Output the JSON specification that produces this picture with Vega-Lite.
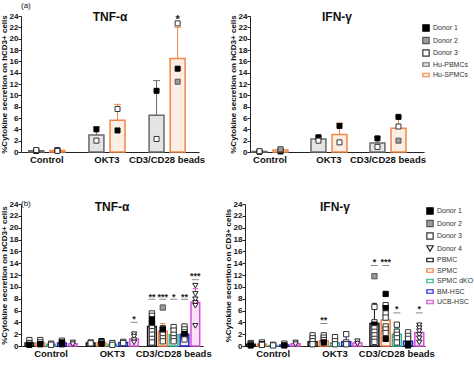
{
 "$schema": "https://vega.github.io/schema/vega-lite/v6.json",
 "padding": {"left": 0, "top": 2, "right": 0, "bottom": 0},
 "spacing": 36,
 "datasets": {
  "aT_bars": [
   {"cat": "Control", "cell": "Hu-PBMCs", "m": 0.2, "e": 0.3},
   {"cat": "Control", "cell": "Hu-SPMCs", "m": 0.25, "e": 0.3},
   {"cat": "OKT3", "cell": "Hu-PBMCs", "m": 3.0, "e": 4.4},
   {"cat": "OKT3", "cell": "Hu-SPMCs", "m": 5.6, "e": 8.4},
   {"cat": "CD3/CD28 beads", "cell": "Hu-PBMCs", "m": 6.5, "e": 12.6},
   {"cat": "CD3/CD28 beads", "cell": "Hu-SPMCs", "m": 16.5, "e": 22.0}
  ],
  "aT_pts": [
   {"cat": "Control", "cell": "Hu-PBMCs", "key": "Donor 1", "v": 0.2},
   {"cat": "Control", "cell": "Hu-PBMCs", "key": "Donor 3", "v": 0.35},
   {"cat": "Control", "cell": "Hu-SPMCs", "key": "Donor 2", "v": 0.25},
   {"cat": "Control", "cell": "Hu-SPMCs", "key": "Donor 1", "v": 0.3},
   {"cat": "Control", "cell": "Hu-SPMCs", "key": "Donor 3", "v": 0.2},
   {"cat": "OKT3", "cell": "Hu-PBMCs", "key": "Donor 1", "v": 4.0},
   {"cat": "OKT3", "cell": "Hu-PBMCs", "key": "Donor 3", "v": 2.0},
   {"cat": "OKT3", "cell": "Hu-SPMCs", "key": "Donor 3", "v": 7.6},
   {"cat": "OKT3", "cell": "Hu-SPMCs", "key": "Donor 1", "v": 3.8},
   {"cat": "CD3/CD28 beads", "cell": "Hu-PBMCs", "key": "Donor 1", "v": 10.8},
   {"cat": "CD3/CD28 beads", "cell": "Hu-PBMCs", "key": "Donor 3", "v": 2.3},
   {"cat": "CD3/CD28 beads", "cell": "Hu-SPMCs", "key": "Donor 3", "v": 22.7},
   {"cat": "CD3/CD28 beads", "cell": "Hu-SPMCs", "key": "Donor 1", "v": 14.7},
   {"cat": "CD3/CD28 beads", "cell": "Hu-SPMCs", "key": "Donor 2", "v": 12.4}
  ],
  "aT_sig": [
   {"cat": "CD3/CD28 beads", "cell": "Hu-SPMCs", "s": "*", "y": 23.6}
  ],
  "aI_bars": [
   {"cat": "Control", "cell": "Hu-PBMCs", "m": 0.1, "e": 0.15},
   {"cat": "Control", "cell": "Hu-SPMCs", "m": 0.35, "e": 0.5},
   {"cat": "OKT3", "cell": "Hu-PBMCs", "m": 2.3, "e": 2.8},
   {"cat": "OKT3", "cell": "Hu-SPMCs", "m": 3.1, "e": 5.1},
   {"cat": "CD3/CD28 beads", "cell": "Hu-PBMCs", "m": 1.6, "e": 2.6},
   {"cat": "CD3/CD28 beads", "cell": "Hu-SPMCs", "m": 4.2, "e": 6.3}
  ],
  "aI_pts": [
   {"cat": "Control", "cell": "Hu-PBMCs", "key": "Donor 1", "v": 0.05},
   {"cat": "Control", "cell": "Hu-PBMCs", "key": "Donor 3", "v": 0.15},
   {"cat": "Control", "cell": "Hu-SPMCs", "key": "Donor 1", "v": 0.1},
   {"cat": "Control", "cell": "Hu-SPMCs", "key": "Donor 3", "v": 0.4},
   {"cat": "Control", "cell": "Hu-SPMCs", "key": "Donor 2", "v": 0.5},
   {"cat": "OKT3", "cell": "Hu-PBMCs", "key": "Donor 1", "v": 2.6},
   {"cat": "OKT3", "cell": "Hu-PBMCs", "key": "Donor 3", "v": 2.0},
   {"cat": "OKT3", "cell": "Hu-SPMCs", "key": "Donor 1", "v": 4.6},
   {"cat": "OKT3", "cell": "Hu-SPMCs", "key": "Donor 3", "v": 1.7},
   {"cat": "CD3/CD28 beads", "cell": "Hu-PBMCs", "key": "Donor 1", "v": 2.4},
   {"cat": "CD3/CD28 beads", "cell": "Hu-PBMCs", "key": "Donor 3", "v": 0.9},
   {"cat": "CD3/CD28 beads", "cell": "Hu-SPMCs", "key": "Donor 1", "v": 6.2},
   {"cat": "CD3/CD28 beads", "cell": "Hu-SPMCs", "key": "Donor 3", "v": 4.5},
   {"cat": "CD3/CD28 beads", "cell": "Hu-SPMCs", "key": "Donor 2", "v": 2.0}
  ],
  "bT_bars": [
   {"cat": "Control", "cell": "PBMC", "m": 0.5, "e": 0.9},
   {"cat": "Control", "cell": "SPMC", "m": 0.5, "e": 0.9},
   {"cat": "Control", "cell": "SPMC dKO", "m": 0.3, "e": 0.45},
   {"cat": "Control", "cell": "BM-HSC", "m": 0.5, "e": 0.9},
   {"cat": "Control", "cell": "UCB-HSC", "m": 0.4, "e": 0.6},
   {"cat": "OKT3", "cell": "PBMC", "m": 0.5, "e": 0.6},
   {"cat": "OKT3", "cell": "SPMC", "m": 0.6, "e": 0.8},
   {"cat": "OKT3", "cell": "SPMC dKO", "m": 0.3, "e": 0.5},
   {"cat": "OKT3", "cell": "BM-HSC", "m": 0.6, "e": 0.7},
   {"cat": "OKT3", "cell": "UCB-HSC", "m": 1.2, "e": 2.0},
   {"cat": "CD3/CD28 beads", "cell": "PBMC", "m": 3.3, "e": 4.8},
   {"cat": "CD3/CD28 beads", "cell": "SPMC", "m": 2.5, "e": 3.8},
   {"cat": "CD3/CD28 beads", "cell": "SPMC dKO", "m": 1.9, "e": 2.7},
   {"cat": "CD3/CD28 beads", "cell": "BM-HSC", "m": 2.0, "e": 2.6},
   {"cat": "CD3/CD28 beads", "cell": "UCB-HSC", "m": 7.4, "e": 9.7}
  ],
  "bT_pts": [
   {"cat": "Control", "cell": "PBMC", "key": "Donor 3", "v": 1.0},
   {"cat": "Control", "cell": "PBMC", "key": "Donor 3", "v": 0.5},
   {"cat": "Control", "cell": "PBMC", "key": "Donor 1", "v": 0.2},
   {"cat": "Control", "cell": "SPMC", "key": "Donor 3", "v": 1.0},
   {"cat": "Control", "cell": "SPMC", "key": "Donor 3", "v": 0.6},
   {"cat": "Control", "cell": "SPMC", "key": "Donor 1", "v": 0.3},
   {"cat": "Control", "cell": "SPMC dKO", "key": "Donor 3", "v": 0.4},
   {"cat": "Control", "cell": "SPMC dKO", "key": "Donor 3", "v": 0.2},
   {"cat": "Control", "cell": "BM-HSC", "key": "Donor 3", "v": 0.9},
   {"cat": "Control", "cell": "BM-HSC", "key": "Donor 1", "v": 0.6},
   {"cat": "Control", "cell": "BM-HSC", "key": "Donor 1", "v": 0.3},
   {"cat": "Control", "cell": "UCB-HSC", "key": "Donor 4", "v": 0.6},
   {"cat": "Control", "cell": "UCB-HSC", "key": "Donor 4", "v": 0.3},
   {"cat": "OKT3", "cell": "PBMC", "key": "Donor 3", "v": 0.6},
   {"cat": "OKT3", "cell": "PBMC", "key": "Donor 3", "v": 0.45},
   {"cat": "OKT3", "cell": "SPMC", "key": "Donor 1", "v": 0.8},
   {"cat": "OKT3", "cell": "SPMC", "key": "Donor 3", "v": 0.6},
   {"cat": "OKT3", "cell": "SPMC", "key": "Donor 1", "v": 0.4},
   {"cat": "OKT3", "cell": "SPMC dKO", "key": "Donor 3", "v": 0.5},
   {"cat": "OKT3", "cell": "SPMC dKO", "key": "Donor 3", "v": 0.2},
   {"cat": "OKT3", "cell": "BM-HSC", "key": "Donor 3", "v": 0.7},
   {"cat": "OKT3", "cell": "BM-HSC", "key": "Donor 3", "v": 0.5},
   {"cat": "OKT3", "cell": "UCB-HSC", "key": "Donor 4", "v": 2.0},
   {"cat": "OKT3", "cell": "UCB-HSC", "key": "Donor 4", "v": 1.6},
   {"cat": "OKT3", "cell": "UCB-HSC", "key": "Donor 4", "v": 1.0},
   {"cat": "OKT3", "cell": "UCB-HSC", "key": "Donor 4", "v": 0.6},
   {"cat": "CD3/CD28 beads", "cell": "PBMC", "key": "Donor 3", "v": 5.5},
   {"cat": "CD3/CD28 beads", "cell": "PBMC", "key": "Donor 3", "v": 5.1},
   {"cat": "CD3/CD28 beads", "cell": "PBMC", "key": "Donor 1", "v": 4.5},
   {"cat": "CD3/CD28 beads", "cell": "PBMC", "key": "Donor 1", "v": 4.0},
   {"cat": "CD3/CD28 beads", "cell": "PBMC", "key": "Donor 1", "v": 3.5},
   {"cat": "CD3/CD28 beads", "cell": "PBMC", "key": "Donor 3", "v": 3.0},
   {"cat": "CD3/CD28 beads", "cell": "PBMC", "key": "Donor 3", "v": 2.5},
   {"cat": "CD3/CD28 beads", "cell": "PBMC", "key": "Donor 3", "v": 1.9},
   {"cat": "CD3/CD28 beads", "cell": "PBMC", "key": "Donor 3", "v": 1.2},
   {"cat": "CD3/CD28 beads", "cell": "PBMC", "key": "Donor 3", "v": 0.6},
   {"cat": "CD3/CD28 beads", "cell": "SPMC", "key": "Donor 2", "v": 6.5},
   {"cat": "CD3/CD28 beads", "cell": "SPMC", "key": "Donor 3", "v": 3.0},
   {"cat": "CD3/CD28 beads", "cell": "SPMC", "key": "Donor 1", "v": 2.8},
   {"cat": "CD3/CD28 beads", "cell": "SPMC", "key": "Donor 1", "v": 2.3},
   {"cat": "CD3/CD28 beads", "cell": "SPMC", "key": "Donor 3", "v": 1.9},
   {"cat": "CD3/CD28 beads", "cell": "SPMC", "key": "Donor 3", "v": 1.3},
   {"cat": "CD3/CD28 beads", "cell": "SPMC", "key": "Donor 3", "v": 0.8},
   {"cat": "CD3/CD28 beads", "cell": "SPMC dKO", "key": "Donor 3", "v": 3.2},
   {"cat": "CD3/CD28 beads", "cell": "SPMC dKO", "key": "Donor 3", "v": 2.6},
   {"cat": "CD3/CD28 beads", "cell": "SPMC dKO", "key": "Donor 3", "v": 1.9},
   {"cat": "CD3/CD28 beads", "cell": "SPMC dKO", "key": "Donor 3", "v": 1.3},
   {"cat": "CD3/CD28 beads", "cell": "SPMC dKO", "key": "Donor 3", "v": 0.8},
   {"cat": "CD3/CD28 beads", "cell": "BM-HSC", "key": "Donor 3", "v": 3.3},
   {"cat": "CD3/CD28 beads", "cell": "BM-HSC", "key": "Donor 3", "v": 2.8},
   {"cat": "CD3/CD28 beads", "cell": "BM-HSC", "key": "Donor 3", "v": 2.3},
   {"cat": "CD3/CD28 beads", "cell": "BM-HSC", "key": "Donor 1", "v": 2.0},
   {"cat": "CD3/CD28 beads", "cell": "BM-HSC", "key": "Donor 1", "v": 1.6},
   {"cat": "CD3/CD28 beads", "cell": "BM-HSC", "key": "Donor 3", "v": 1.1},
   {"cat": "CD3/CD28 beads", "cell": "UCB-HSC", "key": "Donor 4", "v": 10.2},
   {"cat": "CD3/CD28 beads", "cell": "UCB-HSC", "key": "Donor 4", "v": 8.8},
   {"cat": "CD3/CD28 beads", "cell": "UCB-HSC", "key": "Donor 4", "v": 7.9},
   {"cat": "CD3/CD28 beads", "cell": "UCB-HSC", "key": "Donor 4", "v": 7.3},
   {"cat": "CD3/CD28 beads", "cell": "UCB-HSC", "key": "Donor 4", "v": 6.8},
   {"cat": "CD3/CD28 beads", "cell": "UCB-HSC", "key": "Donor 4", "v": 3.4}
  ],
  "bT_sig": [
   {"cat": "OKT3", "cell": "UCB-HSC", "s": "*", "y": 4.9, "d": 4.0},
   {"cat": "CD3/CD28 beads", "cell": "PBMC", "s": "**", "y": 8.7, "d": 7.9},
   {"cat": "CD3/CD28 beads", "cell": "SPMC", "s": "***", "y": 8.7, "d": 7.9},
   {"cat": "CD3/CD28 beads", "cell": "SPMC dKO", "s": "*", "y": 8.7, "d": 7.9},
   {"cat": "CD3/CD28 beads", "cell": "BM-HSC", "s": "**", "y": 8.7, "d": 7.9},
   {"cat": "CD3/CD28 beads", "cell": "UCB-HSC", "s": "***", "y": 12.2, "d": 11.2}
  ],
  "bI_bars": [
   {"cat": "Control", "cell": "PBMC", "m": 0.3, "e": 0.5},
   {"cat": "Control", "cell": "SPMC", "m": 0.3, "e": 0.5},
   {"cat": "Control", "cell": "SPMC dKO", "m": 0.1, "e": 0.2},
   {"cat": "Control", "cell": "BM-HSC", "m": 0.15, "e": 0.3},
   {"cat": "Control", "cell": "UCB-HSC", "m": 0.4, "e": 0.6},
   {"cat": "OKT3", "cell": "PBMC", "m": 0.7, "e": 1.5},
   {"cat": "OKT3", "cell": "SPMC", "m": 0.9, "e": 1.6},
   {"cat": "OKT3", "cell": "SPMC dKO", "m": 0.5, "e": 1.2},
   {"cat": "OKT3", "cell": "BM-HSC", "m": 0.7, "e": 1.8},
   {"cat": "OKT3", "cell": "UCB-HSC", "m": 0.5, "e": 0.8},
   {"cat": "CD3/CD28 beads", "cell": "PBMC", "m": 3.8, "e": 7.2},
   {"cat": "CD3/CD28 beads", "cell": "SPMC", "m": 4.4, "e": 7.0},
   {"cat": "CD3/CD28 beads", "cell": "SPMC dKO", "m": 2.0, "e": 3.0},
   {"cat": "CD3/CD28 beads", "cell": "BM-HSC", "m": 0.8, "e": 1.7},
   {"cat": "CD3/CD28 beads", "cell": "UCB-HSC", "m": 2.3, "e": 3.4}
  ],
  "bI_pts": [
   {"cat": "Control", "cell": "PBMC", "key": "Donor 3", "v": 0.5},
   {"cat": "Control", "cell": "PBMC", "key": "Donor 3", "v": 0.3},
   {"cat": "Control", "cell": "PBMC", "key": "Donor 1", "v": 0.1},
   {"cat": "Control", "cell": "SPMC", "key": "Donor 3", "v": 0.6},
   {"cat": "Control", "cell": "SPMC", "key": "Donor 1", "v": 0.3},
   {"cat": "Control", "cell": "SPMC", "key": "Donor 3", "v": 0.2},
   {"cat": "Control", "cell": "SPMC dKO", "key": "Donor 3", "v": 0.2},
   {"cat": "Control", "cell": "SPMC dKO", "key": "Donor 3", "v": 0.1},
   {"cat": "Control", "cell": "BM-HSC", "key": "Donor 3", "v": 0.4},
   {"cat": "Control", "cell": "BM-HSC", "key": "Donor 1", "v": 0.1},
   {"cat": "Control", "cell": "UCB-HSC", "key": "Donor 4", "v": 0.6},
   {"cat": "Control", "cell": "UCB-HSC", "key": "Donor 4", "v": 0.3},
   {"cat": "OKT3", "cell": "PBMC", "key": "Donor 3", "v": 1.8},
   {"cat": "OKT3", "cell": "PBMC", "key": "Donor 3", "v": 1.3},
   {"cat": "OKT3", "cell": "PBMC", "key": "Donor 3", "v": 0.8},
   {"cat": "OKT3", "cell": "PBMC", "key": "Donor 3", "v": 0.3},
   {"cat": "OKT3", "cell": "SPMC", "key": "Donor 3", "v": 1.8},
   {"cat": "OKT3", "cell": "SPMC", "key": "Donor 3", "v": 1.4},
   {"cat": "OKT3", "cell": "SPMC", "key": "Donor 3", "v": 1.0},
   {"cat": "OKT3", "cell": "SPMC", "key": "Donor 1", "v": 0.6},
   {"cat": "OKT3", "cell": "SPMC dKO", "key": "Donor 3", "v": 1.5},
   {"cat": "OKT3", "cell": "SPMC dKO", "key": "Donor 3", "v": 0.8},
   {"cat": "OKT3", "cell": "SPMC dKO", "key": "Donor 3", "v": 0.3},
   {"cat": "OKT3", "cell": "BM-HSC", "key": "Donor 3", "v": 2.0},
   {"cat": "OKT3", "cell": "BM-HSC", "key": "Donor 3", "v": 0.6},
   {"cat": "OKT3", "cell": "BM-HSC", "key": "Donor 3", "v": 0.3},
   {"cat": "OKT3", "cell": "UCB-HSC", "key": "Donor 4", "v": 0.8},
   {"cat": "OKT3", "cell": "UCB-HSC", "key": "Donor 4", "v": 0.4},
   {"cat": "CD3/CD28 beads", "cell": "PBMC", "key": "Donor 2", "v": 11.8},
   {"cat": "CD3/CD28 beads", "cell": "PBMC", "key": "Donor 3", "v": 6.6},
   {"cat": "CD3/CD28 beads", "cell": "PBMC", "key": "Donor 3", "v": 4.0},
   {"cat": "CD3/CD28 beads", "cell": "PBMC", "key": "Donor 1", "v": 3.6},
   {"cat": "CD3/CD28 beads", "cell": "PBMC", "key": "Donor 3", "v": 3.0},
   {"cat": "CD3/CD28 beads", "cell": "PBMC", "key": "Donor 3", "v": 2.4},
   {"cat": "CD3/CD28 beads", "cell": "PBMC", "key": "Donor 3", "v": 1.8},
   {"cat": "CD3/CD28 beads", "cell": "PBMC", "key": "Donor 3", "v": 1.2},
   {"cat": "CD3/CD28 beads", "cell": "PBMC", "key": "Donor 3", "v": 0.7},
   {"cat": "CD3/CD28 beads", "cell": "SPMC", "key": "Donor 1", "v": 8.8},
   {"cat": "CD3/CD28 beads", "cell": "SPMC", "key": "Donor 3", "v": 6.9},
   {"cat": "CD3/CD28 beads", "cell": "SPMC", "key": "Donor 1", "v": 6.4},
   {"cat": "CD3/CD28 beads", "cell": "SPMC", "key": "Donor 3", "v": 5.5},
   {"cat": "CD3/CD28 beads", "cell": "SPMC", "key": "Donor 3", "v": 4.8},
   {"cat": "CD3/CD28 beads", "cell": "SPMC", "key": "Donor 3", "v": 3.3},
   {"cat": "CD3/CD28 beads", "cell": "SPMC", "key": "Donor 3", "v": 2.8},
   {"cat": "CD3/CD28 beads", "cell": "SPMC", "key": "Donor 3", "v": 2.2},
   {"cat": "CD3/CD28 beads", "cell": "SPMC", "key": "Donor 1", "v": 1.2},
   {"cat": "CD3/CD28 beads", "cell": "SPMC dKO", "key": "Donor 3", "v": 3.6},
   {"cat": "CD3/CD28 beads", "cell": "SPMC dKO", "key": "Donor 3", "v": 2.4},
   {"cat": "CD3/CD28 beads", "cell": "SPMC dKO", "key": "Donor 3", "v": 1.9},
   {"cat": "CD3/CD28 beads", "cell": "SPMC dKO", "key": "Donor 3", "v": 1.3},
   {"cat": "CD3/CD28 beads", "cell": "SPMC dKO", "key": "Donor 3", "v": 0.6},
   {"cat": "CD3/CD28 beads", "cell": "BM-HSC", "key": "Donor 3", "v": 2.3},
   {"cat": "CD3/CD28 beads", "cell": "BM-HSC", "key": "Donor 3", "v": 1.7},
   {"cat": "CD3/CD28 beads", "cell": "BM-HSC", "key": "Donor 3", "v": 1.2},
   {"cat": "CD3/CD28 beads", "cell": "BM-HSC", "key": "Donor 1", "v": 0.4},
   {"cat": "CD3/CD28 beads", "cell": "BM-HSC", "key": "Donor 1", "v": 0.1},
   {"cat": "CD3/CD28 beads", "cell": "UCB-HSC", "key": "Donor 4", "v": 3.5},
   {"cat": "CD3/CD28 beads", "cell": "UCB-HSC", "key": "Donor 4", "v": 3.0},
   {"cat": "CD3/CD28 beads", "cell": "UCB-HSC", "key": "Donor 4", "v": 2.5},
   {"cat": "CD3/CD28 beads", "cell": "UCB-HSC", "key": "Donor 4", "v": 1.9},
   {"cat": "CD3/CD28 beads", "cell": "UCB-HSC", "key": "Donor 4", "v": 1.3},
   {"cat": "CD3/CD28 beads", "cell": "UCB-HSC", "key": "Donor 4", "v": 0.6}
  ],
  "bI_sig": [
   {"cat": "OKT3", "cell": "SPMC", "s": "**", "y": 4.7, "d": 3.8},
   {"cat": "CD3/CD28 beads", "cell": "PBMC", "s": "*", "y": 14.5, "d": 13.6},
   {"cat": "CD3/CD28 beads", "cell": "SPMC", "s": "***", "y": 14.5, "d": 13.6},
   {"cat": "CD3/CD28 beads", "cell": "SPMC dKO", "s": "*", "y": 6.6, "d": 5.6},
   {"cat": "CD3/CD28 beads", "cell": "UCB-HSC", "s": "*", "y": 6.6, "d": 5.6}
  ]
 },
 "vconcat": [
  {
   "title": {"text": "(a)", "anchor": "start", "fontSize": 8, "fontWeight": "normal", "offset": 1, "frame": "group"},
   "spacing": 24,
   "resolve": {"scale": {"xOffset": "independent", "fill": "independent", "stroke": "independent", "shape": "independent"}, "legend": {"fill": "independent", "stroke": "independent", "shape": "independent"}},
   "hconcat": [
    {
     "width": 178, "height": 136,
     "title": {"text": "TNF-α", "dy": 5},
     "encoding": {
      "x": {"field": "cat", "type": "nominal", "sort": null, "scale": {"domain": ["Control", "OKT3", "CD3/CD28 beads"], "paddingInner": 0.4, "paddingOuter": 0.18, "align": 0.36}, "axis": {"title": null}},
      "xOffset": {"field": "cell", "type": "nominal", "scale": {"domain": ["Hu-PBMCs", "Hu-SPMCs"], "paddingInner": 0.29, "paddingOuter": 0}}
     },
     "layer": [
      {"data": {"name": "aT_bars"}, "mark": {"type": "bar", "strokeWidth": 1.5},
       "encoding": {
        "y": {"field": "m", "type": "quantitative", "scale": {"domain": [0, 24], "nice": false}, "axis": {"title": "%Cytokine secretion on hCD3+ cells", "values": [0, 2, 4, 6, 8, 10, 12, 14, 16, 18, 20, 22, 24]}},
        "fill": {"field": "cell", "type": "nominal", "scale": {"domain": ["Donor 1", "Donor 2", "Donor 3", "Hu-PBMCs", "Hu-SPMCs"], "range": ["#000000", "#9b9b9b", "#ffffff", "#e4e4e4", "#fdede2"]}, "legend": null},
        "stroke": {"field": "cell", "type": "nominal", "scale": {"domain": ["Donor 1", "Donor 2", "Donor 3", "Hu-PBMCs", "Hu-SPMCs"], "range": ["#000000", "#555555", "#333333", "#6a6a6a", "#f0884a"]}, "legend": null}
       }},
      {"data": {"name": "aT_bars"}, "mark": {"type": "rule", "strokeWidth": 1},
       "encoding": {
        "y": {"field": "m", "type": "quantitative", "axis": {"title": "%Cytokine secretion on hCD3+ cells", "values": [0, 2, 4, 6, 8, 10, 12, 14, 16, 18, 20, 22, 24]}}, "y2": {"field": "e"},
        "stroke": {"field": "cell", "type": "nominal", "legend": null}
       }},
      {"data": {"name": "aT_bars"}, "mark": {"type": "tick", "filled": false, "thickness": 0.01, "size": 7, "strokeWidth": 1},
       "encoding": {
        "y": {"field": "e", "type": "quantitative", "axis": {"title": "%Cytokine secretion on hCD3+ cells", "values": [0, 2, 4, 6, 8, 10, 12, 14, 16, 18, 20, 22, 24]}},
        "stroke": {"field": "cell", "type": "nominal", "legend": null}
       }},
      {"data": {"name": "aT_pts"}, "mark": {"type": "point", "filled": true, "size": 25, "strokeWidth": 1, "opacity": 1},
       "encoding": {
        "y": {"field": "v", "type": "quantitative", "axis": {"title": "%Cytokine secretion on hCD3+ cells", "values": [0, 2, 4, 6, 8, 10, 12, 14, 16, 18, 20, 22, 24]}},
        "shape": {"field": "key", "type": "nominal", "scale": {"domain": ["Donor 1", "Donor 2", "Donor 3", "Hu-PBMCs", "Hu-SPMCs"], "range": ["square", "square", "square", "M-1,-0.55H1V0.55H-1Z", "M-1,-0.55H1V0.55H-1Z"]}, "legend": null},
        "fill": {"field": "key", "type": "nominal", "legend": null},
        "stroke": {"field": "key", "type": "nominal", "legend": null}
       }},
      {"data": {"name": "aT_sig"}, "mark": {"type": "text", "fontSize": 11, "fontWeight": "bold", "baseline": "middle", "dy": 2, "color": "#222"},
       "encoding": {
        "y": {"field": "y", "type": "quantitative", "axis": {"title": "%Cytokine secretion on hCD3+ cells", "values": [0, 2, 4, 6, 8, 10, 12, 14, 16, 18, 20, 22, 24]}}, "text": {"field": "s"}
       }}
     ]
    },
    {
     "width": 174, "height": 136,
     "title": {"text": "IFN-γ", "dy": 5},
     "encoding": {
      "x": {"field": "cat", "type": "nominal", "sort": null, "scale": {"domain": ["Control", "OKT3", "CD3/CD28 beads"], "paddingInner": 0.39, "paddingOuter": 0.17, "align": 0.1}, "axis": {"title": null}},
      "xOffset": {"field": "cell", "type": "nominal", "scale": {"domain": ["Hu-PBMCs", "Hu-SPMCs"], "paddingInner": 0.29, "paddingOuter": 0}}
     },
     "layer": [
      {"data": {"name": "aI_bars"}, "mark": {"type": "bar", "strokeWidth": 1.5},
       "encoding": {
        "y": {"field": "m", "type": "quantitative", "scale": {"domain": [0, 24], "nice": false}, "axis": {"title": "%Cytokine secretion on hCD3+ cells", "values": [0, 2, 4, 6, 8, 10, 12, 14, 16, 18, 20, 22, 24]}},
        "fill": {"field": "cell", "type": "nominal", "scale": {"domain": ["Donor 1", "Donor 2", "Donor 3", "Hu-PBMCs", "Hu-SPMCs"], "range": ["#000000", "#9b9b9b", "#ffffff", "#e4e4e4", "#fdede2"]}, "legend": {"orient": "none", "legendX": 172, "legendY": 8, "title": null}},
        "stroke": {"field": "cell", "type": "nominal", "scale": {"domain": ["Donor 1", "Donor 2", "Donor 3", "Hu-PBMCs", "Hu-SPMCs"], "range": ["#000000", "#555555", "#333333", "#6a6a6a", "#f0884a"]}, "legend": {"orient": "none", "legendX": 172, "legendY": 8, "title": null}}
       }},
      {"data": {"name": "aI_bars"}, "mark": {"type": "rule", "strokeWidth": 1},
       "encoding": {
        "y": {"field": "m", "type": "quantitative", "axis": {"title": "%Cytokine secretion on hCD3+ cells", "values": [0, 2, 4, 6, 8, 10, 12, 14, 16, 18, 20, 22, 24]}}, "y2": {"field": "e"},
        "stroke": {"field": "cell", "type": "nominal", "legend": {"orient": "none", "legendX": 172, "legendY": 8, "title": null}}
       }},
      {"data": {"name": "aI_bars"}, "mark": {"type": "tick", "filled": false, "thickness": 0.01, "size": 7, "strokeWidth": 1},
       "encoding": {
        "y": {"field": "e", "type": "quantitative", "axis": {"title": "%Cytokine secretion on hCD3+ cells", "values": [0, 2, 4, 6, 8, 10, 12, 14, 16, 18, 20, 22, 24]}},
        "stroke": {"field": "cell", "type": "nominal", "legend": {"orient": "none", "legendX": 172, "legendY": 8, "title": null}}
       }},
      {"data": {"name": "aI_pts"}, "mark": {"type": "point", "filled": true, "size": 25, "strokeWidth": 1, "opacity": 1},
       "encoding": {
        "y": {"field": "v", "type": "quantitative", "axis": {"title": "%Cytokine secretion on hCD3+ cells", "values": [0, 2, 4, 6, 8, 10, 12, 14, 16, 18, 20, 22, 24]}},
        "shape": {"field": "key", "type": "nominal", "scale": {"domain": ["Donor 1", "Donor 2", "Donor 3", "Hu-PBMCs", "Hu-SPMCs"], "range": ["square", "square", "square", "M-1,-0.55H1V0.55H-1Z", "M-1,-0.55H1V0.55H-1Z"]}, "legend": {"orient": "none", "legendX": 172, "legendY": 8, "title": null}},
        "fill": {"field": "key", "type": "nominal", "legend": {"orient": "none", "legendX": 172, "legendY": 8, "title": null}},
        "stroke": {"field": "key", "type": "nominal", "legend": {"orient": "none", "legendX": 172, "legendY": 8, "title": null}}
       }}
     ]
    }
   ]
  },
  {
   "title": {"text": "(b)", "anchor": "start", "fontSize": 8, "fontWeight": "normal", "offset": -8, "frame": "group"},
   "spacing": 12,
   "resolve": {"scale": {"xOffset": "independent", "fill": "independent", "stroke": "independent", "shape": "independent"}, "legend": {"fill": "independent", "stroke": "independent", "shape": "independent"}},
   "hconcat": [
    {
     "width": 182, "height": 142,
     "title": {"text": "TNF-α", "dy": 7},
     "encoding": {
      "x": {"field": "cat", "type": "nominal", "sort": null, "scale": {"domain": ["Control", "OKT3", "CD3/CD28 beads"], "paddingInner": 0.15, "paddingOuter": 0.06, "align": 0.55}, "axis": {"title": null}},
      "xOffset": {"field": "cell", "type": "nominal", "scale": {"domain": ["PBMC", "SPMC", "SPMC dKO", "BM-HSC", "UCB-HSC"], "paddingInner": 0.2, "paddingOuter": 0}}
     },
     "layer": [
      {"data": {"name": "bT_bars"}, "mark": {"type": "bar", "strokeWidth": 1.5},
       "encoding": {
        "y": {"field": "m", "type": "quantitative", "scale": {"domain": [0, 24], "nice": false}, "axis": {"title": "%Cytokine secretion on hCD3+ cells", "values": [0, 2, 4, 6, 8, 10, 12, 14, 16, 18, 20, 22, 24]}},
        "fill": {"field": "cell", "type": "nominal", "scale": {"domain": ["Donor 1", "Donor 2", "Donor 3", "Donor 4", "PBMC", "SPMC", "SPMC dKO", "BM-HSC", "UCB-HSC"], "range": ["#000000", "#9b9b9b", "#ffffff", "#ffffff", "#ffffff", "#fff4ec", "#eefaf5", "#f0f0ff", "#fbe1f8"]}, "legend": null},
        "stroke": {"field": "cell", "type": "nominal", "scale": {"domain": ["Donor 1", "Donor 2", "Donor 3", "Donor 4", "PBMC", "SPMC", "SPMC dKO", "BM-HSC", "UCB-HSC"], "range": ["#000000", "#555555", "#333333", "#222222", "#111111", "#f07d3c", "#2db38a", "#2424d4", "#d84fd8"]}, "legend": null}
       }},
      {"data": {"name": "bT_bars"}, "mark": {"type": "rule", "strokeWidth": 1},
       "encoding": {
        "y": {"field": "m", "type": "quantitative", "axis": {"title": "%Cytokine secretion on hCD3+ cells", "values": [0, 2, 4, 6, 8, 10, 12, 14, 16, 18, 20, 22, 24]}}, "y2": {"field": "e"},
        "stroke": {"field": "cell", "type": "nominal", "legend": null}
       }},
      {"data": {"name": "bT_bars"}, "mark": {"type": "tick", "filled": false, "thickness": 0.01, "size": 5, "strokeWidth": 1},
       "encoding": {
        "y": {"field": "e", "type": "quantitative", "axis": {"title": "%Cytokine secretion on hCD3+ cells", "values": [0, 2, 4, 6, 8, 10, 12, 14, 16, 18, 20, 22, 24]}},
        "stroke": {"field": "cell", "type": "nominal", "legend": null}
       }},
      {"data": {"name": "bT_pts"}, "mark": {"type": "point", "filled": true, "size": 28, "strokeWidth": 1, "opacity": 1},
       "encoding": {
        "y": {"field": "v", "type": "quantitative", "axis": {"title": "%Cytokine secretion on hCD3+ cells", "values": [0, 2, 4, 6, 8, 10, 12, 14, 16, 18, 20, 22, 24]}},
        "shape": {"field": "key", "type": "nominal", "scale": {"domain": ["Donor 1", "Donor 2", "Donor 3", "Donor 4", "PBMC", "SPMC", "SPMC dKO", "BM-HSC", "UCB-HSC"], "range": ["square", "square", "square", "triangle-down", "M-1,-0.55H1V0.55H-1Z", "M-1,-0.55H1V0.55H-1Z", "M-1,-0.55H1V0.55H-1Z", "M-1,-0.55H1V0.55H-1Z", "M-1,-0.55H1V0.55H-1Z"]}, "legend": null},
        "fill": {"field": "key", "type": "nominal", "legend": null},
        "stroke": {"field": "key", "type": "nominal", "legend": null}
       }},
      {"data": {"name": "bT_sig"}, "mark": {"type": "tick", "thickness": 1, "size": 7, "color": "#555555"},
       "encoding": {
        "y": {"field": "d", "type": "quantitative", "axis": {"title": "%Cytokine secretion on hCD3+ cells", "values": [0, 2, 4, 6, 8, 10, 12, 14, 16, 18, 20, 22, 24]}}
       }},
      {"data": {"name": "bT_sig"}, "mark": {"type": "text", "fontSize": 9, "fontWeight": "bold", "baseline": "middle", "dy": 2, "color": "#222"},
       "encoding": {
        "y": {"field": "y", "type": "quantitative", "axis": {"title": "%Cytokine secretion on hCD3+ cells", "values": [0, 2, 4, 6, 8, 10, 12, 14, 16, 18, 20, 22, 24]}}, "text": {"field": "s"}
       }}
     ]
    },
    {
     "width": 180, "height": 142,
     "title": {"text": "IFN-γ", "dy": 7},
     "encoding": {
      "x": {"field": "cat", "type": "nominal", "sort": null, "scale": {"domain": ["Control", "OKT3", "CD3/CD28 beads"], "paddingInner": 0.13, "paddingOuter": 0.02, "align": 0.5}, "axis": {"title": null}},
      "xOffset": {"field": "cell", "type": "nominal", "scale": {"domain": ["PBMC", "SPMC", "SPMC dKO", "BM-HSC", "UCB-HSC"], "paddingInner": 0.2, "paddingOuter": 0}}
     },
     "layer": [
      {"data": {"name": "bI_bars"}, "mark": {"type": "bar", "strokeWidth": 1.5},
       "encoding": {
        "y": {"field": "m", "type": "quantitative", "scale": {"domain": [0, 24], "nice": false}, "axis": {"title": "%Cytokine secretion on CD3+ cells", "values": [0, 2, 4, 6, 8, 10, 12, 14, 16, 18, 20, 22, 24]}},
        "fill": {"field": "cell", "type": "nominal", "scale": {"domain": ["Donor 1", "Donor 2", "Donor 3", "Donor 4", "PBMC", "SPMC", "SPMC dKO", "BM-HSC", "UCB-HSC"], "range": ["#000000", "#9b9b9b", "#ffffff", "#ffffff", "#ffffff", "#fff4ec", "#eefaf5", "#f0f0ff", "#fbe1f8"]}, "legend": {"orient": "none", "legendX": 181, "legendY": 3, "title": null}},
        "stroke": {"field": "cell", "type": "nominal", "scale": {"domain": ["Donor 1", "Donor 2", "Donor 3", "Donor 4", "PBMC", "SPMC", "SPMC dKO", "BM-HSC", "UCB-HSC"], "range": ["#000000", "#555555", "#333333", "#222222", "#111111", "#f07d3c", "#2db38a", "#2424d4", "#d84fd8"]}, "legend": {"orient": "none", "legendX": 181, "legendY": 3, "title": null}}
       }},
      {"data": {"name": "bI_bars"}, "mark": {"type": "rule", "strokeWidth": 1},
       "encoding": {
        "y": {"field": "m", "type": "quantitative", "axis": {"title": "%Cytokine secretion on CD3+ cells", "values": [0, 2, 4, 6, 8, 10, 12, 14, 16, 18, 20, 22, 24]}}, "y2": {"field": "e"},
        "stroke": {"field": "cell", "type": "nominal", "legend": {"orient": "none", "legendX": 181, "legendY": 3, "title": null}}
       }},
      {"data": {"name": "bI_bars"}, "mark": {"type": "tick", "filled": false, "thickness": 0.01, "size": 5, "strokeWidth": 1},
       "encoding": {
        "y": {"field": "e", "type": "quantitative", "axis": {"title": "%Cytokine secretion on CD3+ cells", "values": [0, 2, 4, 6, 8, 10, 12, 14, 16, 18, 20, 22, 24]}},
        "stroke": {"field": "cell", "type": "nominal", "legend": {"orient": "none", "legendX": 181, "legendY": 3, "title": null}}
       }},
      {"data": {"name": "bI_pts"}, "mark": {"type": "point", "filled": true, "size": 28, "strokeWidth": 1, "opacity": 1},
       "encoding": {
        "y": {"field": "v", "type": "quantitative", "axis": {"title": "%Cytokine secretion on CD3+ cells", "values": [0, 2, 4, 6, 8, 10, 12, 14, 16, 18, 20, 22, 24]}},
        "shape": {"field": "key", "type": "nominal", "scale": {"domain": ["Donor 1", "Donor 2", "Donor 3", "Donor 4", "PBMC", "SPMC", "SPMC dKO", "BM-HSC", "UCB-HSC"], "range": ["square", "square", "square", "triangle-down", "M-1,-0.55H1V0.55H-1Z", "M-1,-0.55H1V0.55H-1Z", "M-1,-0.55H1V0.55H-1Z", "M-1,-0.55H1V0.55H-1Z", "M-1,-0.55H1V0.55H-1Z"]}, "legend": {"orient": "none", "legendX": 181, "legendY": 3, "title": null}},
        "fill": {"field": "key", "type": "nominal", "legend": {"orient": "none", "legendX": 181, "legendY": 3, "title": null}},
        "stroke": {"field": "key", "type": "nominal", "legend": {"orient": "none", "legendX": 181, "legendY": 3, "title": null}}
       }},
      {"data": {"name": "bI_sig"}, "mark": {"type": "tick", "thickness": 1, "size": 7, "color": "#555555"},
       "encoding": {
        "y": {"field": "d", "type": "quantitative", "axis": {"title": "%Cytokine secretion on CD3+ cells", "values": [0, 2, 4, 6, 8, 10, 12, 14, 16, 18, 20, 22, 24]}}
       }},
      {"data": {"name": "bI_sig"}, "mark": {"type": "text", "fontSize": 9, "fontWeight": "bold", "baseline": "middle", "dy": 2, "color": "#222"},
       "encoding": {
        "y": {"field": "y", "type": "quantitative", "axis": {"title": "%Cytokine secretion on CD3+ cells", "values": [0, 2, 4, 6, 8, 10, 12, 14, 16, 18, 20, 22, 24]}}, "text": {"field": "s"}
       }}
     ]
    }
   ]
  }
 ],
 "resolve": {"scale": {"xOffset": "independent", "fill": "independent", "stroke": "independent", "shape": "independent"}, "legend": {"fill": "independent", "stroke": "independent", "shape": "independent"}},
 "config": {
  "font": "Liberation Sans",
  "view": {"stroke": null},
  "axis": {"domainColor": "#222222", "tickColor": "#222222", "labelColor": "#111111", "titleColor": "#111111", "grid": false, "labelFontWeight": "bold", "titleFontWeight": "bold"},
  "axisY": {"labelFontSize": 8, "tickSize": 3, "labelPadding": 0, "titleFontSize": 8, "titlePadding": 1},
  "axisX": {"labelFontSize": 9.5, "ticks": false, "labelAngle": 0, "labelPadding": 2},
  "title": {"fontSize": 12, "fontWeight": "bold", "offset": -7, "color": "#111111"},
  "legend": {"labelFontSize": 7, "labelColor": "#333333", "symbolSize": 40, "rowPadding": 0.5, "symbolStrokeWidth": 1.2, "labelOffset": 3}
 }
}
